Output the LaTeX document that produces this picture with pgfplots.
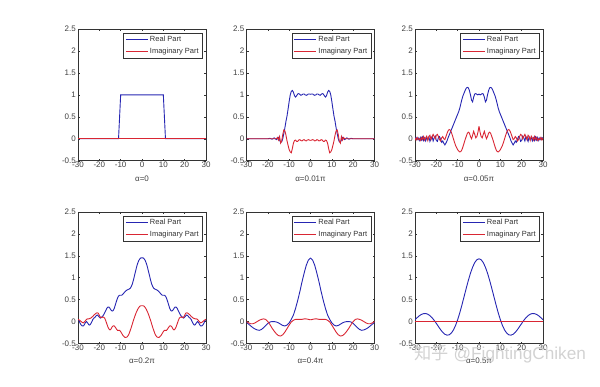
\documentclass[border=0pt]{standalone}
\usepackage{pgfplots}
\pgfplotsset{compat=1.18}
\usepackage{pgfplotstable}
\usepackage{fontspec}
\setmainfont{Liberation Sans}
\newfontfamily\cjk{Noto Sans CJK SC}
\definecolor{mblue}{rgb}{0.15,0.15,0.7}
\definecolor{mred}{rgb}{0.85,0.15,0.2}

\pgfplotstableread{
x re im
-30 0 0
-11 0 0
-10 1 0
10 1 0
11 0 0
30 0 0
}\tabA

\pgfplotstableread{
x re im
-30 0 0
-20 0 0
-19 0.01 0
-18 -0.01 0
-17 0.02 0
-16 -0.02 0
-15.5 0.0 0.03
-15 0.03 -0.03
-14.5 -0.03 0.05
-14 -0.08 -0.1
-13.5 -0.07 -0.05
-13 0 0.1
-12.5 0.12 0.2
-12 0.25 0.18
-11.5 0.4 0.08
-11 0.52 -0.05
-10.5 0.68 -0.15
-10 0.85 -0.25
-9.5 1 -0.3
-9 1.08 -0.32
-8.5 1.1 -0.22
-8 1.06 -0.1
-7.5 0.98 -0.04
-7 0.95 -0.03
-6.5 0.98 -0.06
-6 1.02 -0.06
-5.5 1.03 -0.03
-5 1.01 -0.02
-4.5 0.99 -0.04
-4 1 -0.05
-3.5 1.02 -0.03
-3 1.02 -0.02
-2.5 1 -0.04
-2 0.99 -0.05
-1.5 1 -0.03
-1 1.02 -0.02
-0.5 1.02 -0.03
0 1.01 -0.04
}\tabB

\pgfplotstableread{
x re im
-30 0 0.02
-29.5 0.03 -0.03
-29 -0.02 0.03
-28.5 0.02 -0.02
-28 -0.04 0
-27.5 0.03 -0.04
-27 -0.03 0.03
-26.5 0.04 -0.02
-26 -0.04 0.05
-25.5 0.02 -0.03
-25 -0.05 0.02
-24.5 0.03 0.06
-24 -0.02 -0.04
-23.5 0.04 0.05
-23 -0.06 0.08
-22.5 0 -0.02
-22 0.05 0.04
-21.5 -0.05 0.1
-21 0.02 0.05
-20.5 0.06 0
-20 -0.04 0.08
-19.5 -0.06 0.1
-19 0.03 0.05
-18.5 0.05 -0.02
-18 -0.02 -0.05
-17.5 -0.08 0.02
-17 -0.05 0.05
-16.5 -0.1 0
-16 -0.14 -0.02
-15.5 -0.1 0.05
-15 -0.05 0.12
-14.5 0.02 0.18
-14 0.08 0.21
-13.5 0.14 0.2
-13 0.2 0.15
-12.5 0.26 0.08
-12 0.32 0
-11.5 0.38 -0.08
-11 0.44 -0.15
-10.5 0.5 -0.2
-10 0.56 -0.25
-9.5 0.62 -0.28
-9 0.7 -0.3
-8.5 0.8 -0.29
-8 0.9 -0.25
-7.5 0.98 -0.18
-7 1.04 -0.1
-6.5 1.1 -0.02
-6 1.15 0.05
-5.5 1.17 0.12
-5 1.16 0.15
-4.5 1.1 0.13
-4 1 0.05
-3.5 0.88 0
-3 0.84 0.08
-2.5 0.95 0.17
-2 1.02 0.1
-1.5 1.03 0.02
-1 1.01 0.05
-0.5 1 0.15
0 1.02 0.28
}\tabC

\pgfplotstableread{
x re im
-30 0.05 0.05
-29.5 0.02 0.04
-29 -0.04 0.02
-28.5 -0.08 0
-28 -0.1 -0.02
-27.5 -0.1 -0.03
-27 -0.07 -0.01
-26.5 -0.02 0.02
-26 0 0.05
-25.5 -0.03 0.06
-25 -0.07 0.06
-24.5 -0.08 0.07
-24 -0.05 0.08
-23.5 0 0.1
-23 0.05 0.12
-22.5 0.08 0.15
-22 0.1 0.17
-21.5 0.13 0.19
-21 0.15 0.2
-20.5 0.13 0.19
-20 0.1 0.14
-19.5 0.08 0.1
-19 0.1 0.09
-18.5 0.12 0.1
-18 0.15 0.1
-17.5 0.2 0.08
-17 0.25 0.02
-16.5 0.3 -0.05
-16 0.33 -0.12
-15.5 0.33 -0.17
-15 0.3 -0.19
-14.5 0.26 -0.17
-14 0.24 -0.12
-13.5 0.25 -0.1
-13 0.3 -0.1
-12.5 0.38 -0.13
-12 0.46 -0.17
-11.5 0.53 -0.2
-11 0.58 -0.2
-10.5 0.6 -0.2
-10 0.6 -0.23
-9.5 0.6 -0.27
-9 0.62 -0.31
-8.5 0.65 -0.34
-8 0.68 -0.36
-7.5 0.7 -0.36
-7 0.72 -0.35
-6.5 0.73 -0.32
-6 0.74 -0.27
-5.5 0.76 -0.2
-5 0.8 -0.13
-4.5 0.86 -0.05
-4 0.95 0.03
-3.5 1.05 0.1
-3 1.15 0.17
-2.5 1.25 0.23
-2 1.33 0.28
-1.5 1.39 0.32
-1 1.43 0.35
-0.5 1.45 0.36
0 1.45 0.36
}\tabD

\pgfplotstableread{
x re im
-30 -0.02 0
-29 -0.06 -0.03
-28 -0.1 -0.05
-27 -0.14 -0.05
-26 -0.17 -0.03
-25 -0.19 0
-24 -0.2 0.03
-23 -0.18 0.05
-22 -0.14 0.06
-21 -0.09 0.05
-20 -0.04 0
-19 -0.01 -0.07
-18 0 -0.15
-17 0 -0.22
-16 -0.01 -0.28
-15 -0.03 -0.32
-14 -0.06 -0.33
-13 -0.09 -0.3
-12 -0.1 -0.24
-11 -0.08 -0.16
-10 -0.03 -0.08
-9 0.05 -0.01
-8 0.15 0.03
-7 0.3 0.05
-6 0.48 0.05
-5 0.68 0.05
-4 0.9 0.05
-3 1.1 0.06
-2 1.28 0.06
-1 1.4 0.05
0 1.45 0.04
}\tabE

\pgfplotstableread{
x re im
-30 0.042 0
-29 0.089 0
-28 0.130 0
-27 0.162 0
-26 0.180 0
-25 0.183 0
-24 0.167 0
-23 0.135 0
-22 0.088 0
-21 0.027 0
-20 -0.043 0
-19 -0.115 0
-18 -0.185 0
-17 -0.246 0
-16 -0.289 0
-15 -0.309 0
-14 -0.303 0
-13 -0.264 0
-12 -0.193 0
-11 -0.090 0
-10 0.043 0
-9 0.201 0
-8 0.378 0
-7 0.566 0
-6 0.755 0
-5 0.937 0
-4 1.101 0
-3 1.238 0
-2 1.343 0
-1 1.408 0
0 1.43 0
}\tabF

\pgfplotsset{
 panel/.style={
  width=128pt, height=131.7pt, scale only axis, anchor=north west,
  xmin=-30,xmax=30,ymin=-0.5,ymax=2.5,
  xtick={-30,-20,-10,0,10,20,30}, xticklabels={-30,-20,-10,0,10,20,30},
  ytick={-0.5,0,0.5,1,1.5,2,2.5}, yticklabels={-0.5,0,0.5,1,1.5,2,2.5},
  tick label style={font=\fontsize{8}{9}\selectfont, text=black!75},
  xticklabel style={inner sep=1.5pt},
  yticklabel style={inner sep=2pt},
  major tick length=2pt,
  axis line style={black!80, line width=0.5pt},
  tick style={black!80, line width=0.4pt},
  label style={font=\fontsize{8}{9}\selectfont, text=black!75},
  xlabel style={yshift=-2.5pt},
  legend cell align=left,
  legend style={at={(1,1)}, anchor=north east, xshift=-3.5pt, yshift=-4pt,
    font=\fontsize{7.5}{8.5}\selectfont, draw=black!80, line width=0.5pt,
    inner xsep=2pt, inner ysep=1.5pt, row sep=2pt,
    nodes={inner sep=1.5pt, text=black!80}},
  legend image code/.code={\draw[#1, line width=1pt] (0pt,0pt) -- (22pt,0pt);},
 },
 realline/.style={draw=mblue, color=mblue, line width=0.9pt},
 imagline/.style={draw=mred, color=mred, line width=0.9pt}
}

\newcommand{\halfpanel}[1]{%
  \addplot[realline] table[x=x,y=re]{#1};
  \addlegendentry{Real Part}
  \addplot[realline, forget plot] table[x expr=-\thisrow{x},y=re]{#1};
  \addplot[imagline] table[x=x,y=im]{#1};
  \addlegendentry{Imaginary Part}
  \addplot[imagline, forget plot] table[x expr=-\thisrow{x},y=im]{#1};
}

\begin{document}
\begin{tikzpicture}
\path[use as bounding box] (0,0) rectangle (600pt,-386pt);

\begin{axis}[panel, at={(78pt,-29pt)}, xlabel={α=0}]
  \addplot[realline] table[x=x,y=re]{\tabA};
  \addlegendentry{Real Part}
  \addplot[imagline] table[x=x,y=im]{\tabA};
  \addlegendentry{Imaginary Part}
\end{axis}

\begin{axis}[panel, at={(246.5pt,-29pt)}, xlabel={α=0.01π}]
  \halfpanel{\tabB}
\end{axis}

\begin{axis}[panel, at={(415pt,-29pt)}, xlabel={α=0.05π}]
  \halfpanel{\tabC}
\end{axis}

\begin{axis}[panel, at={(78pt,-211.8pt)}, xlabel={α=0.2π}]
  \halfpanel{\tabD}
\end{axis}

\begin{axis}[panel, at={(246.5pt,-211.8pt)}, xlabel={α=0.4π}]
  \halfpanel{\tabE}
\end{axis}

\begin{axis}[panel, at={(415pt,-211.8pt)}, xlabel={α=0.5π}]
  \halfpanel{\tabF}
\end{axis}

\node[anchor=west, text=gray!35, font=\fontsize{17.2}{17.2}\selectfont] at (411pt,-354pt) {{\cjk 知乎} @FightingChiken};
\end{tikzpicture}
\end{document}
